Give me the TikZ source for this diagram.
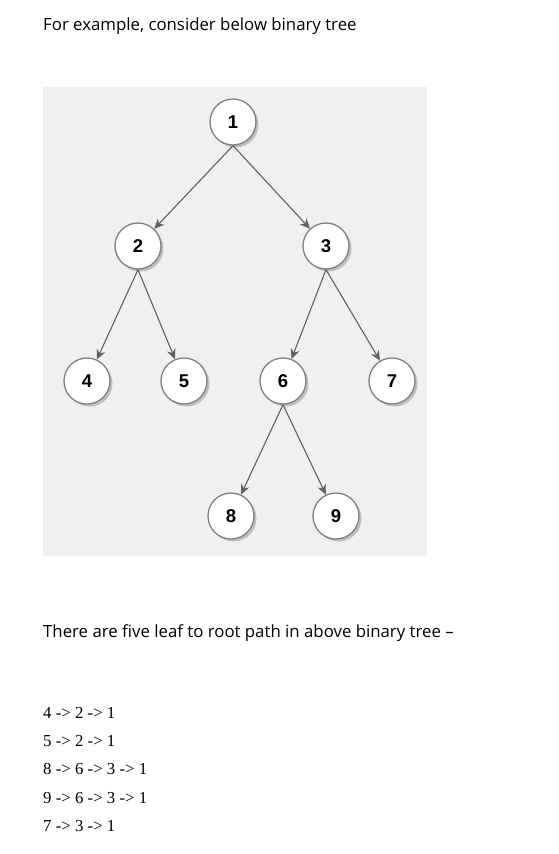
\documentclass[tikz,border=0pt]{standalone}
\usepackage{fontspec}
\setmainfont{Open Sans}
\newfontfamily\numfont{Liberation Sans}
\newfontfamily\serifpath{Liberation Serif}
\usetikzlibrary{arrows.meta,shadows}
\definecolor{bggray}{HTML}{F0F0F0}
\definecolor{edgegray}{HTML}{606060}
\definecolor{bordergray}{HTML}{808080}
\begin{document}
\begin{tikzpicture}[x=1pt,y=-1pt,
  treenode/.style={circle, draw=bordergray, line width=1.3pt, fill=white, minimum size=46pt, inner sep=0pt,
     font=\numfont\bfseries\fontsize{18.5}{20}\selectfont,
     drop shadow={shadow xshift=2.5pt, shadow yshift=-2.5pt, opacity=0.35, fill=black!60}},
  edge/.style={draw=edgegray, line width=1.1pt, -{Stealth[length=10pt,width=9pt]}},
  bodytext/.style={anchor=base west, inner sep=0pt, font=\fontsize{16.8}{19}\selectfont},
  pathtext/.style={anchor=base west, inner sep=0pt, font=\serifpath\fontsize{16.8}{19}\selectfont}]
\useasboundingbox (0,0) rectangle (559,854);
\fill[white] (0,0) rectangle (559,854);
\fill[bggray] (43,87) rectangle (427,556);
\node[bodytext] (title) at (43,30) {For example, consider below binary tree};
\node[treenode] (n1) at (233,122) {1};
\node[treenode] (n2) at (138,246) {2};
\node[treenode] (n3) at (326,246) {3};
\node[treenode] (n4) at (87,381) {4};
\node[treenode] (n5) at (184,381) {5};
\node[treenode] (n6) at (283,381) {6};
\node[treenode] (n7) at (392,381) {7};
\node[treenode] (n8) at (231,516) {8};
\node[treenode] (n9) at (336,516) {9};
\draw[edge] (n1.south) -- (n2);
\draw[edge] (n1.south) -- (n3);
\draw[edge] (n2.south) -- (n4);
\draw[edge] (n2.south) -- (n5);
\draw[edge] (n3.south) -- (n6);
\draw[edge] (n3.south) -- (n7);
\draw[edge] (n6.south) -- (n8);
\draw[edge] (n6.south) -- (n9);
\node[bodytext] (sub) at (43,637) {There are five leaf to root path in above binary tree –};
\node[pathtext] (p1) at (43,718) {4 -> 2 -> 1};
\node[pathtext] (p2) at (43,746) {5 -> 2 -> 1};
\node[pathtext] (p3) at (43,774) {8 -> 6 -> 3 -> 1};
\node[pathtext] (p4) at (43,803) {9 -> 6 -> 3 -> 1};
\node[pathtext] (p5) at (43,831) {7 -> 3 -> 1};
\end{tikzpicture}
\end{document}
